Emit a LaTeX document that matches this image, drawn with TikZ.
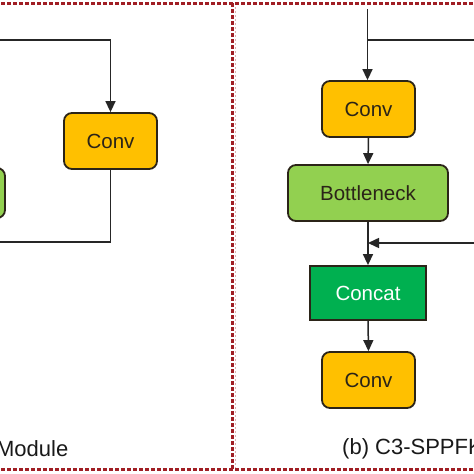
\documentclass[tikz,border=0pt]{standalone}
\usepackage{fontspec}
\setmainfont{Liberation Sans}
\usetikzlibrary{arrows.meta}
\definecolor{convfill}{HTML}{FFC000}
\definecolor{bottfill}{HTML}{92D050}
\definecolor{catfill}{HTML}{00B050}
\definecolor{edgec}{HTML}{2B2418}
\definecolor{frame}{HTML}{A01E24}
\tikzset{
  convbox/.style={draw=edgec, line width=1.8pt, fill=convfill, rounded corners=8pt,
    minimum width=93pt, minimum height=56pt, inner sep=0pt,
    font=\fontsize{20.5}{24}\selectfont, text=edgec},
  bottbox/.style={draw=edgec, line width=1.8pt, fill=bottfill, rounded corners=8pt,
    minimum width=160pt, minimum height=56pt, inner sep=0pt,
    font=\fontsize{20.5}{24}\selectfont, text=edgec},
  catbox/.style={draw=edgec, line width=1.8pt, fill=catfill,
    minimum width=116pt, minimum height=54pt, inner sep=0pt,
    font=\fontsize{20.5}{24}\selectfont, text=white},
  conn/.style={draw=black!85, line width=1.5pt},
  arr/.style={conn, -{Triangle[length=11pt,width=10pt]}},
  larr/.style={conn, {Triangle[length=11pt,width=10pt]}-},
  framedash/.style={draw=frame, line width=3pt, dash pattern=on 3.5pt off 2.5pt},
  caption/.style={font=\fontsize{22}{26}\selectfont, text=black!90, inner sep=0pt}
}
\begin{document}
\begin{tikzpicture}[x=1pt,y=-1pt]
\useasboundingbox (0,0) rectangle (474,474);
\clip (0,0) rectangle (474,474);
\fill[white] (0,0) rectangle (474,474);

% frames
\draw[frame!35, line width=1pt, dash pattern=on 2pt off 2pt] (235.5,3) -- (235.5,469);
\draw[framedash] (-5,3) -- (480,3);
\draw[framedash] (-5,469) -- (480,469);
\draw[framedash] (232.5,3) -- (232.5,469);

% left panel
\node[convbox] (lconv) at (110.5,141) {Conv};
\node[bottbox, minimum width=93pt, minimum height=50pt] (lbott) at (-41.5,193) {};
\coordinate (lin) at (-5,40);
\coordinate (lout) at (-5,242);
\draw[arr] (lin) -| (lconv.north);
\draw[conn] (lconv.south) |- (lout);
\node[caption, anchor=east] (lcap) at (68.5,449) {Module};

% right panel
\coordinate (rtop) at (367.5,9);
\coordinate (rbranch) at (367.5,40);
\coordinate (rbranchend) at (480,40);
\node[convbox] (rconv1) at (368.5,109) {Conv};
\node[bottbox] (rbott) at (368,193) {Bottleneck};
\node[catbox] (rcat) at (368,293) {Concat};
\node[convbox] (rconv2) at (368.5,380) {Conv};
\coordinate (rjoin) at (368,243);
\coordinate (rside) at (480,243);

\draw[arr] (rtop) -- (rtop |- rconv1.north);
\draw[conn] (rbranch) -- (rbranchend);
\draw[arr] (rconv1.south) -- (rbott.north);
\draw[arr] (rbott.south) -- (rcat.north);
\draw[larr] (rjoin) -- (rside);
\draw[arr] (rcat.south) -- (rconv2.north);

\node[caption, anchor=west] (rcap) at (342,449) {(b) C3-SPPFK};
\end{tikzpicture}
\end{document}
